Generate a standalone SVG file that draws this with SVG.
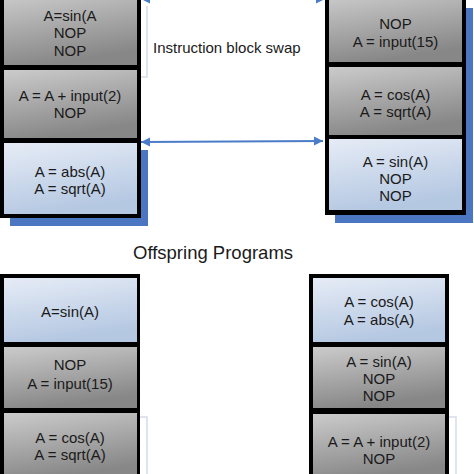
<svg xmlns="http://www.w3.org/2000/svg" width="474" height="474" viewBox="0 0 474 474">
<defs>
<linearGradient id="gray" x1="0" y1="0" x2="0.3" y2="1">
<stop offset="0" stop-color="#cbcbcb"/>
<stop offset="1" stop-color="#878787"/>
</linearGradient>
<linearGradient id="blue" x1="0" y1="0" x2="0.3" y2="1">
<stop offset="0" stop-color="#e6ecf6"/>
<stop offset="1" stop-color="#b5c8e2"/>
</linearGradient>
<marker id="ah" viewBox="0 0 10 10" refX="10" refY="5" markerUnits="userSpaceOnUse" markerWidth="9" markerHeight="10" orient="auto-start-reverse">
<path d="M0,0 L10,5 L0,10 z" fill="#4a7cc8"/>
</marker>
</defs>
<style>
text{font-family:"Liberation Sans",Arial,sans-serif;fill:#1a1a1a;text-anchor:middle}
.t{font-size:15px}
.frame{fill:#000}
.g{fill:url(#gray)}
.b{fill:url(#blue)}
.shadow{fill:#4a76c2}
.faint{fill:none;stroke:#d6dcea;stroke-width:1.5}
.arrow{stroke:#4a7cc8;stroke-width:2;fill:none}
.label{text-anchor:start}
</style>
<rect width="474" height="474" fill="#fff"/>
<!-- faint outlines -->
<path class="faint" d="M138,77 H147 V6"/>
<path class="faint" d="M138,417 H147 V474"/>
<path class="faint" d="M446,417 H456 V474"/>
<!-- parent program 1 -->
<g id="parent1">
<rect class="shadow" x="10" y="150" width="138" height="76"/>
<rect class="frame" x="0" y="-5" width="141" height="223"/>
<rect class="g" x="4" y="-5" width="133" height="70"/>
<rect class="g" x="4" y="70" width="133" height="68"/>
<rect class="b" x="4" y="143" width="133" height="71"/>
<text class="t" x="70" y="21">A=sin(A</text>
<text class="t" x="70" y="38">NOP</text>
<text class="t" x="70" y="56">NOP</text>
<text class="t" x="70" y="101">A = A + input(2)</text>
<text class="t" x="70" y="118">NOP</text>
<text class="t" x="70" y="177">A = abs(A)</text>
<text class="t" x="70" y="194">A = sqrt(A)</text>
</g>
<!-- parent program 2 -->
<g id="parent2">
<rect class="shadow" x="335" y="8" width="138" height="215"/>
<rect class="frame" x="325" y="-5" width="141" height="220"/>
<rect class="g" x="329" y="-5" width="133" height="67"/>
<rect class="g" x="329" y="67" width="133" height="68"/>
<rect class="b" x="329" y="139" width="133" height="71"/>
<text class="t" x="395.5" y="29">NOP</text>
<text class="t" x="395.5" y="47">A = input(15)</text>
<text class="t" x="395.5" y="100">A = cos(A)</text>
<text class="t" x="395.5" y="117">A = sqrt(A)</text>
<text class="t" x="395.5" y="167">A = sin(A)</text>
<text class="t" x="395.5" y="184">NOP</text>
<text class="t" x="395.5" y="201">NOP</text>
</g>
<!-- offspring 1 -->
<g id="offspring1">
<rect class="frame" x="0" y="274" width="140" height="205"/>
<rect class="b" x="4" y="278" width="133" height="64"/>
<rect class="g" x="4" y="347" width="133" height="61"/>
<rect class="g" x="4" y="413" width="133" height="66"/>
<text class="t" x="70" y="317">A=sin(A)</text>
<text class="t" x="70" y="370">NOP</text>
<text class="t" x="70" y="389">A = input(15)</text>
<text class="t" x="70" y="443">A = cos(A)</text>
<text class="t" x="70" y="460">A = sqrt(A)</text>
</g>
<!-- offspring 2 -->
<g id="offspring2">
<rect class="frame" x="309" y="274" width="140" height="205"/>
<rect class="b" x="313" y="278" width="132" height="64"/>
<rect class="g" x="313" y="347" width="132" height="61"/>
<rect class="g" x="313" y="414" width="132" height="65"/>
<text class="t" x="379" y="307">A = cos(A)</text>
<text class="t" x="379" y="325">A = abs(A)</text>
<text class="t" x="379" y="367">A = sin(A)</text>
<text class="t" x="379" y="384">NOP</text>
<text class="t" x="379" y="401">NOP</text>
<text class="t" x="379" y="447">A = A + input(2)</text>
<text class="t" x="379" y="464">NOP</text>
</g>
<!-- connectors -->
<g id="connectors">
<line class="arrow" x1="141" y1="-1" x2="325" y2="-1" marker-start="url(#ah)" marker-end="url(#ah)"/>
<line class="arrow" x1="141" y1="142" x2="323" y2="141" marker-start="url(#ah)" marker-end="url(#ah)"/>
</g>
<g id="labels">
<text class="label" x="153" y="53" font-size="15">Instruction block swap</text>
<text class="label" x="133" y="259" font-size="18.5">Offspring Programs</text>
</g>
</svg>
